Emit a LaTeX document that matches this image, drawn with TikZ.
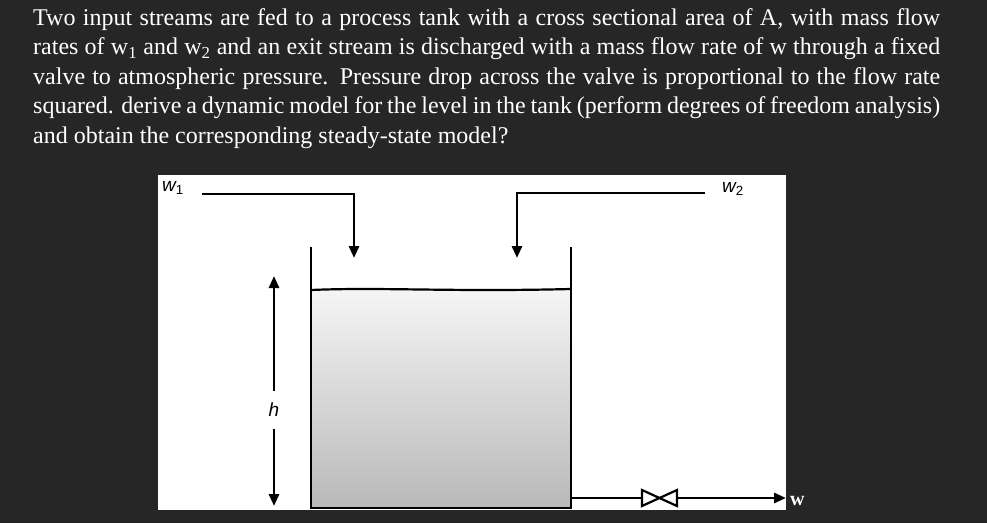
\documentclass[tikz,border=0pt]{standalone}
\usepackage{fontspec}
\setmainfont{Liberation Serif}
\setsansfont{Liberation Sans}
\usetikzlibrary{arrows.meta}
\definecolor{bg}{HTML}{262626}
\begin{document}
\begin{tikzpicture}[x=1pt,y=-1pt,
  pipe/.style={line width=2.8pt},
  flow/.style={line width=2.8pt,-{Triangle[length=12pt,width=10pt]}},
  lbl/.style={font=\sffamily\itshape\fontsize{19}{19}\selectfont}]
\fill[bg] (0,0) rectangle (987,523);
\useasboundingbox (0,0) rectangle (987,523);
\fill[white] (158,175) rectangle (786,510);
\node[anchor=north west,inner sep=0,text width=907pt,align=justify,text=white,
  font=\fontsize{24}{29.5}\selectfont] (q) at (33,8)
 {Two input streams are fed to a process tank with a cross sectional area of A, with mass flow rates of w\textsubscript{1} and w\textsubscript{2} and an exit stream is discharged with a mass flow rate of w through a fixed valve to atmospheric pressure. Pressure drop across the valve is proportional to the flow rate squared. derive a dynamic model for the level in the tank (perform degrees of freedom analysis) and obtain the corresponding steady-state model?};
% liquid
\shade[top color=white!92!gray,bottom color=gray!55] (311,290) rectangle (571,508);
\draw[line width=2.2pt] (311,290) .. controls (380,287) and (450,292) .. (571,289);
\draw[pipe] (311,247) -- (311,508) -- (571,508) -- (571,247);
% inlets
\node[lbl,anchor=west,inner sep=0] (w1) at (162,188) {w\textsubscript{\upshape 1}};
\node[lbl,anchor=west,inner sep=0] (w2) at (722,189) {w\textsubscript{\upshape 2}};
\coordinate (a1) at (202,194); \coordinate (b1) at (354,194); \coordinate (c1) at (354,258);
\coordinate (a2) at (705,193); \coordinate (b2) at (517,193); \coordinate (c2) at (517,258);
\draw[flow] (a1) -- (b1) -- (c1);
\draw[flow] (a2) -- (b2) -- (c2);
% height
\node[lbl,inner sep=2pt] (h) at (274,410) {h};
\coordinate (ht) at (274,276); \coordinate (hb) at (274,506);
\draw[flow] (h.north) ++(0,-10) -- (ht);
\draw[flow] (h.south) ++(0,10) -- (hb);
% outlet
\coordinate (o1) at (571,498); \coordinate (v1) at (642,498); \coordinate (v2) at (677,498); \coordinate (o2) at (786,498);
\draw[pipe] (o1) -- (v1);
\draw[line width=2.2pt,line join=miter] (642,490) -- (677,506) -- (677,490) -- (642,506) -- cycle;
\draw[flow] (v2) -- (o2);
\node[text=white,font=\bfseries\fontsize{20}{20}\selectfont,anchor=west,inner sep=0] (w) at (790,501) {w};
\end{tikzpicture}
\end{document}
